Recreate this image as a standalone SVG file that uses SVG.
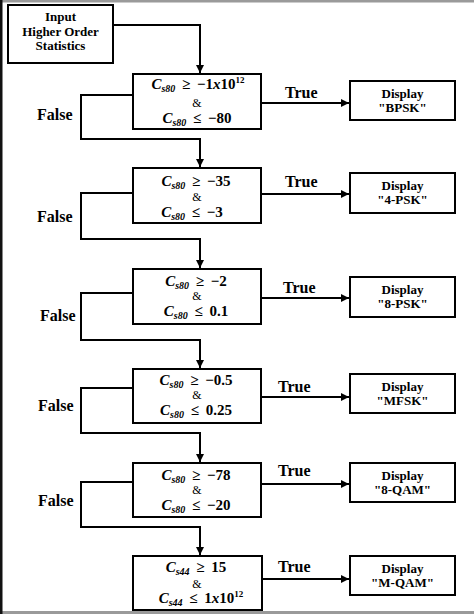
<svg xmlns="http://www.w3.org/2000/svg" width="474" height="614" viewBox="0 0 474 614">
<defs>
<marker id="ah" markerUnits="userSpaceOnUse" markerWidth="9" markerHeight="8" refX="8" refY="4" orient="auto">
<path d="M0,0 L8,4 L0,8 Z" fill="#000"/>
</marker>
<style>
.box{fill:#fff;stroke:#000;stroke-width:2}
.t{font-family:"Liberation Serif",serif;font-weight:bold;fill:#000}
.in{font-size:13px;text-anchor:middle}
.dl{font-size:13px;text-anchor:middle}
.lb{font-size:16px}
.c{font-size:15px;text-anchor:middle;word-spacing:3px}
.amp{font-family:"Liberation Serif",serif;font-size:12px;text-anchor:middle;fill:#000}
.i{font-style:italic}
.sub{font-size:10px;font-style:italic}
.sup{font-size:9px}
.ln{fill:none;stroke:#000;stroke-width:2}
.ar{fill:none;stroke:#000;stroke-width:2;marker-end:url(#ah)}
</style>
</defs>
<rect x="0" y="0" width="474" height="614" fill="#fff"/>
<rect x="0" y="0" width="474" height="2.5" fill="#9a9a9a"/>
<rect x="0" y="611" width="474" height="3" fill="#9a9a9a"/>
<rect x="0" y="0" width="2.5" height="614" fill="#111"/>

<g id="connectors">
<path class="ar" d="M113,25 H200 V73"/>
<path class="ar" d="M133,95 H81 V139 H200 V167"/>
<path class="ar" d="M133,193 H81 V239 H200 V268"/>
<path class="ar" d="M133,293 H81 V340 H200 V368"/>
<path class="ar" d="M133,388 H81 V433 H200 V462"/>
<path class="ar" d="M133,482 H81 V527 H200 V555"/>
<path class="ar" d="M261,103 H349"/>
<path class="ar" d="M261,194 H349"/>
<path class="ar" d="M261,298 H349"/>
<path class="ar" d="M261,397 H349"/>
<path class="ar" d="M261,484 H349"/>
<path class="ar" d="M261,579 H349"/>
<text class="t lb" x="37" y="119.5">False</text>
<text class="t lb" x="37" y="221.5">False</text>
<text class="t lb" x="40" y="320.5">False</text>
<text class="t lb" x="38" y="410.5">False</text>
<text class="t lb" x="38" y="505.5">False</text>
<text class="t lb" x="285" y="97.5">True</text>
<text class="t lb" x="285" y="186.5">True</text>
<text class="t lb" x="283" y="292.5">True</text>
<text class="t lb" x="278" y="391.5">True</text>
<text class="t lb" x="278" y="475.5">True</text>
<text class="t lb" x="278" y="571.5">True</text>
</g>

<g id="input">
<rect class="box" x="8" y="5" width="105" height="58"/>
<text class="t in" x="60.5" y="21">Input</text>
<text class="t in" x="60.5" y="36">Higher Order</text>
<text class="t in" x="60.5" y="50">Statistics</text>
</g>

<g id="cond1">
<rect class="box" x="133" y="74" width="128" height="55"/>
<text class="t c" x="198" y="89"><tspan class="i">C</tspan><tspan class="sub" dy="3">s80</tspan><tspan dy="-3"> ≥ −1</tspan><tspan class="i">x</tspan><tspan>10</tspan><tspan class="sup" dy="-6">12</tspan></text>
<text class="amp" x="197" y="107">&amp;</text>
<text class="t c" x="197" y="123"><tspan class="i">C</tspan><tspan class="sub" dy="3">s80</tspan><tspan dy="-3"> ≤ −80</tspan></text>
</g>

<g id="cond2">
<rect class="box" x="133" y="168" width="128" height="55"/>
<text class="t c" x="196" y="186"><tspan class="i">C</tspan><tspan class="sub" dy="3">s80</tspan><tspan dy="-3"> ≥ −35</tspan></text>
<text class="amp" x="197" y="201">&amp;</text>
<text class="t c" x="192" y="217"><tspan class="i">C</tspan><tspan class="sub" dy="3">s80</tspan><tspan dy="-3"> ≤ −3</tspan></text>
</g>

<g id="cond3">
<rect class="box" x="133" y="269" width="128" height="55"/>
<text class="t c" x="196" y="286"><tspan class="i">C</tspan><tspan class="sub" dy="3">s80</tspan><tspan dy="-3"> ≥ −2</tspan></text>
<text class="amp" x="197" y="300">&amp;</text>
<text class="t c" x="196" y="316"><tspan class="i">C</tspan><tspan class="sub" dy="3">s80</tspan><tspan dy="-3"> ≤ 0.1</tspan></text>
</g>

<g id="cond4">
<rect class="box" x="133" y="369" width="128" height="54"/>
<text class="t c" x="196" y="385"><tspan class="i">C</tspan><tspan class="sub" dy="3">s80</tspan><tspan dy="-3"> ≥ −0.5</tspan></text>
<text class="amp" x="197" y="399">&amp;</text>
<text class="t c" x="196" y="415"><tspan class="i">C</tspan><tspan class="sub" dy="3">s80</tspan><tspan dy="-3"> ≤ 0.25</tspan></text>
</g>

<g id="cond5">
<rect class="box" x="133" y="463" width="128" height="54"/>
<text class="t c" x="196" y="480"><tspan class="i">C</tspan><tspan class="sub" dy="3">s80</tspan><tspan dy="-3"> ≥ −78</tspan></text>
<text class="amp" x="197" y="494">&amp;</text>
<text class="t c" x="196" y="510"><tspan class="i">C</tspan><tspan class="sub" dy="3">s80</tspan><tspan dy="-3"> ≤ −20</tspan></text>
</g>

<g id="cond6">
<rect class="box" x="133" y="556" width="129" height="54"/>
<text class="t c" x="196" y="572"><tspan class="i">C</tspan><tspan class="sub" dy="3">s44</tspan><tspan dy="-3"> ≥ 15</tspan></text>
<text class="amp" x="197" y="588">&amp;</text>
<text class="t c" x="201" y="603"><tspan class="i">C</tspan><tspan class="sub" dy="3">s44</tspan><tspan dy="-3"> ≤ 1</tspan><tspan class="i">x</tspan><tspan>10</tspan><tspan class="sup" dy="-6">12</tspan></text>
</g>

<g id="out1">
<rect class="box" x="350" y="81" width="105" height="39"/>
<text class="t dl" x="402.5" y="97.5">Display</text>
<text class="t dl" x="402.5" y="111.5">"BPSK"</text>
</g>
<g id="out2">
<rect class="box" x="350" y="173" width="105" height="40"/>
<text class="t dl" x="402.5" y="190">Display</text>
<text class="t dl" x="402.5" y="204">"4-PSK"</text>
</g>
<g id="out3">
<rect class="box" x="350" y="277" width="105" height="40"/>
<text class="t dl" x="402.5" y="294">Display</text>
<text class="t dl" x="402.5" y="308">"8-PSK"</text>
</g>
<g id="out4">
<rect class="box" x="350" y="374" width="105" height="39"/>
<text class="t dl" x="402.5" y="390.5">Display</text>
<text class="t dl" x="402.5" y="404.5">"MFSK"</text>
</g>
<g id="out5">
<rect class="box" x="350" y="463" width="105" height="39"/>
<text class="t dl" x="402.5" y="479.5">Display</text>
<text class="t dl" x="402.5" y="493.5">"8-QAM"</text>
</g>
<g id="out6">
<rect class="box" x="350" y="556" width="105" height="39"/>
<text class="t dl" x="402.5" y="572.5">Display</text>
<text class="t dl" x="402.5" y="586.5">"M-QAM"</text>
</g>
</svg>
